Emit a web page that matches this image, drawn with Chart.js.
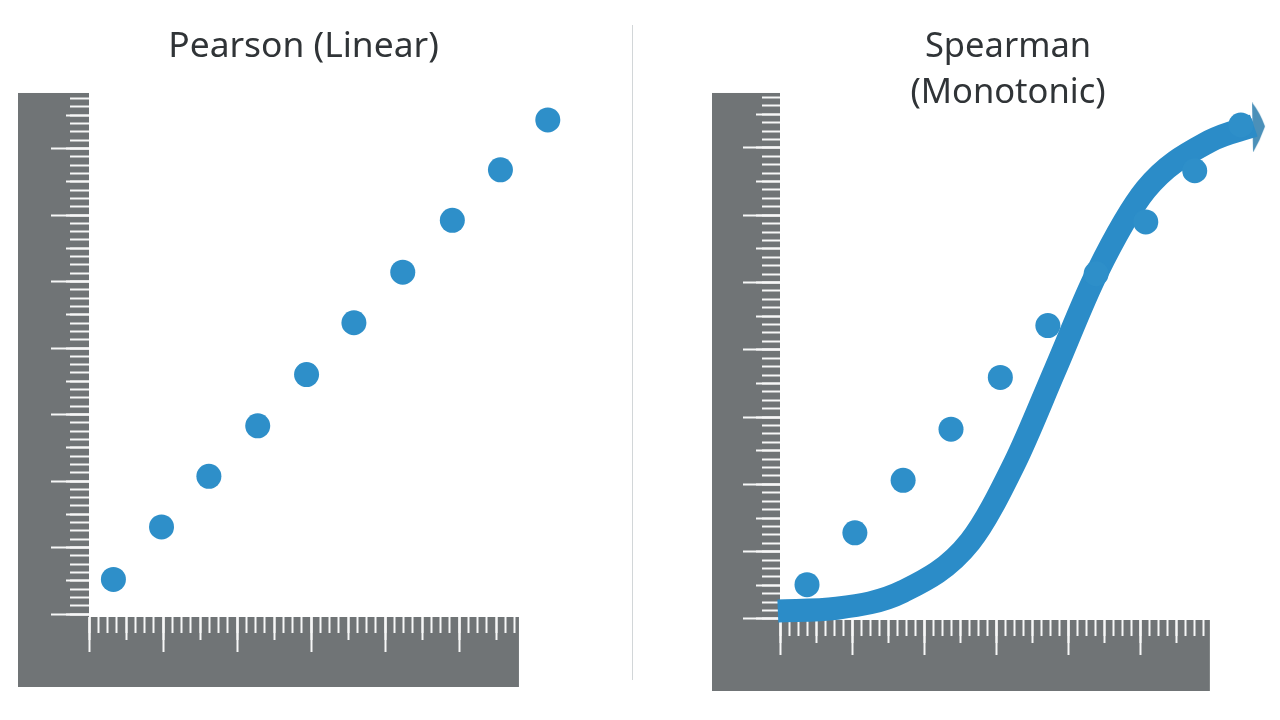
<!DOCTYPE html>
<html>
<head>
<meta charset="utf-8">
<title>Pearson vs Spearman</title>
<script src="https://cdn.jsdelivr.net/npm/chart.js@4"></script>
<style>
  html, body { margin: 0; width: 1280px; height: 720px; overflow: hidden; background: #fff; }
  canvas { position: absolute; top: 0; }
  #pearson { left: 0; }
  #spearman { left: 700px; }
  #divider { position: absolute; left: 632px; top: 25px; width: 1px; height: 655px; background: #d2d6d8; }
</style>
</head>
<body>
<canvas id="pearson" width="607" height="720"></canvas>
<div id="divider"></div>
<canvas id="spearman" width="616" height="720"></canvas>
<script>
// values are in ruler units, one unit = one long tick
var pearsonX = [0.33, 0.98, 1.62, 2.28, 2.94, 3.58, 4.24, 4.91, 5.56, 6.2];
var pearsonY = [0.52, 1.31, 2.07, 2.83, 3.6, 4.38, 5.14, 5.92, 6.68, 7.43];

var spearmanX = [0.375, 1.04, 1.71, 2.375, 3.06, 3.72, 4.39, 5.08, 5.76, 6.4];
var spearmanY = [0.51, 1.28, 2.06, 2.82, 3.59, 4.36, 5.13, 5.9, 6.66, 7.34];

var curveX = [-0.03, 0.79, 1.71, 2.64, 3.26, 3.82, 4.4, 5.08, 5.97, 6.58];
var curveY = [0.12, 0.16, 0.41, 1.15, 2.32, 3.7, 5.14, 6.38, 7.1, 7.33];

var arrowX = [6.646];
var arrowY = [7.304];

var BLUE = "#2e8fc9";
var GREY = "#707476";

function toPoints(xs, ys) {
  return xs.map(function (x, i) {
    return { x: x, y: ys[i] };
  });
}

// arrow head at the end of the curve
function makeArrowHead() {
  var c = document.createElement("canvas");
  c.width = 15;
  c.height = 50;
  var g = c.getContext("2d");
  g.fillStyle = "#4b90b9";
  g.beginPath();
  g.moveTo(1, 0);
  g.quadraticCurveTo(9, 10, 14, 24);
  g.quadraticCurveTo(9, 38, 2, 50);
  g.closePath();
  g.fill();
  return c;
}

// grey L shaped ruler behind the ticks
var rulerPlugin = {
  id: "ruler",
  beforeDraw: function (chart, args, opts) {
    var a = chart.chartArea;
    var end = chart.scales.x.getPixelForValue(opts.end);
    var ctx = chart.ctx;
    ctx.save();
    ctx.fillStyle = GREY;
    ctx.fillRect(a.left - opts.left, a.top, opts.left, a.bottom - a.top + opts.bottom);
    ctx.fillRect(a.left, a.bottom, end - a.left, opts.bottom);
    ctx.restore();
  },
};

function tickAxis(position, step, length, min, max, last) {
  return {
    type: "linear",
    position: position,
    min: min,
    max: max,
    border: { display: false },
    grid: { drawOnChartArea: false, tickLength: length, tickColor: "#f6f7f7", tickWidth: 2 },
    ticks: { display: false, stepSize: step, autoSkip: false, includeBounds: false },
    // no ticks past the end of the grey ruler
    afterBuildTicks: function (axis) {
      axis.ticks = axis.ticks.filter(function (t) {
        return t.value <= last;
      });
    },
  };
}

function makeChart(id, cfg) {
  var scales = {};
  var yAt = { y: cfg.yMin };
  var xAt = { x: 0 };

  scales.x = tickAxis("bottom", 1, cfg.xLen[0], 0, cfg.xMax, cfg.ruler.end);
  scales.x.afterFit = function (axis) {
    axis.height = 720 - cfg.bottom;
  };
  scales.xMid = tickAxis(yAt, 0.5, cfg.xLen[1], 0, cfg.xMax, cfg.ruler.end);
  scales.xMinor = tickAxis(yAt, 0.125, cfg.xLen[2], 0, cfg.xMax, cfg.ruler.end);

  scales.y = tickAxis("left", 1, cfg.yLen[0], cfg.yMin, cfg.yMax, cfg.yMax);
  scales.y.afterFit = function (axis) {
    axis.width = cfg.plotLeft;
  };
  scales.yMid = tickAxis(xAt, 0.5, cfg.yLen[1], cfg.yMin, cfg.yMax, cfg.yMax);
  scales.yMinor = tickAxis(xAt, 0.125, cfg.yLen[2], cfg.yMin, cfg.yMax, cfg.yMax);

  return new Chart(document.getElementById(id), {
    type: "scatter",
    data: { datasets: cfg.datasets },
    plugins: [rulerPlugin],
    options: {
      responsive: false,
      animation: false,
      events: [],
      layout: { autoPadding: false },
      scales: scales,
      plugins: {
        legend: { display: false },
        tooltip: { enabled: false },
        ruler: cfg.ruler,
        title: {
          display: true,
          text: cfg.title,
          color: "#303437",
          font: { family: "'Noto Sans'", size: cfg.titleSize, weight: "normal", lineHeight: 1.333 },
          padding: cfg.titlePadding,
        },
      },
    },
  });
}

makeChart("pearson", {
  title: "Pearson (Linear)",
  titleSize: 35.4,
  titlePadding: { top: 23.4, bottom: 22.4 },
  plotLeft: 89,
  bottom: 617,
  xMax: 7,
  yMin: -0.045,
  yMax: 7.835,
  xLen: [35, 23, 16],
  yLen: [38, 23, 19],
  ruler: { left: 71, bottom: 70, end: 5.81 },
  datasets: [
    { data: toPoints(pearsonX, pearsonY), backgroundColor: BLUE, borderWidth: 0, pointRadius: 12.5 },
  ],
});

makeChart("spearman", {
  title: ["Spearman", "(Monotonic)"],
  titleSize: 34.5,
  titlePadding: { top: 24, bottom: -23 },
  plotLeft: 80,
  bottom: 620,
  xMax: 7.444,
  yMin: -0.015,
  yMax: 7.816,
  xLen: [35, 23, 16],
  yLen: [37, 24, 18],
  ruler: { left: 68, bottom: 71, end: 5.97 },
  datasets: [
    { data: toPoints(spearmanX, spearmanY), backgroundColor: BLUE, borderWidth: 0, pointRadius: 12.5 },
    {
      data: toPoints(curveX, curveY),
      showLine: true,
      borderColor: "#2b8cc8",
      borderWidth: 23,
      pointRadius: 0,
      cubicInterpolationMode: "monotone",
      clip: false,
    },
    {
      data: toPoints(arrowX, arrowY),
      pointStyle: makeArrowHead(),
      pointRadius: 10,
      clip: false,
    },
  ],
});
</script>
</body>
</html>
